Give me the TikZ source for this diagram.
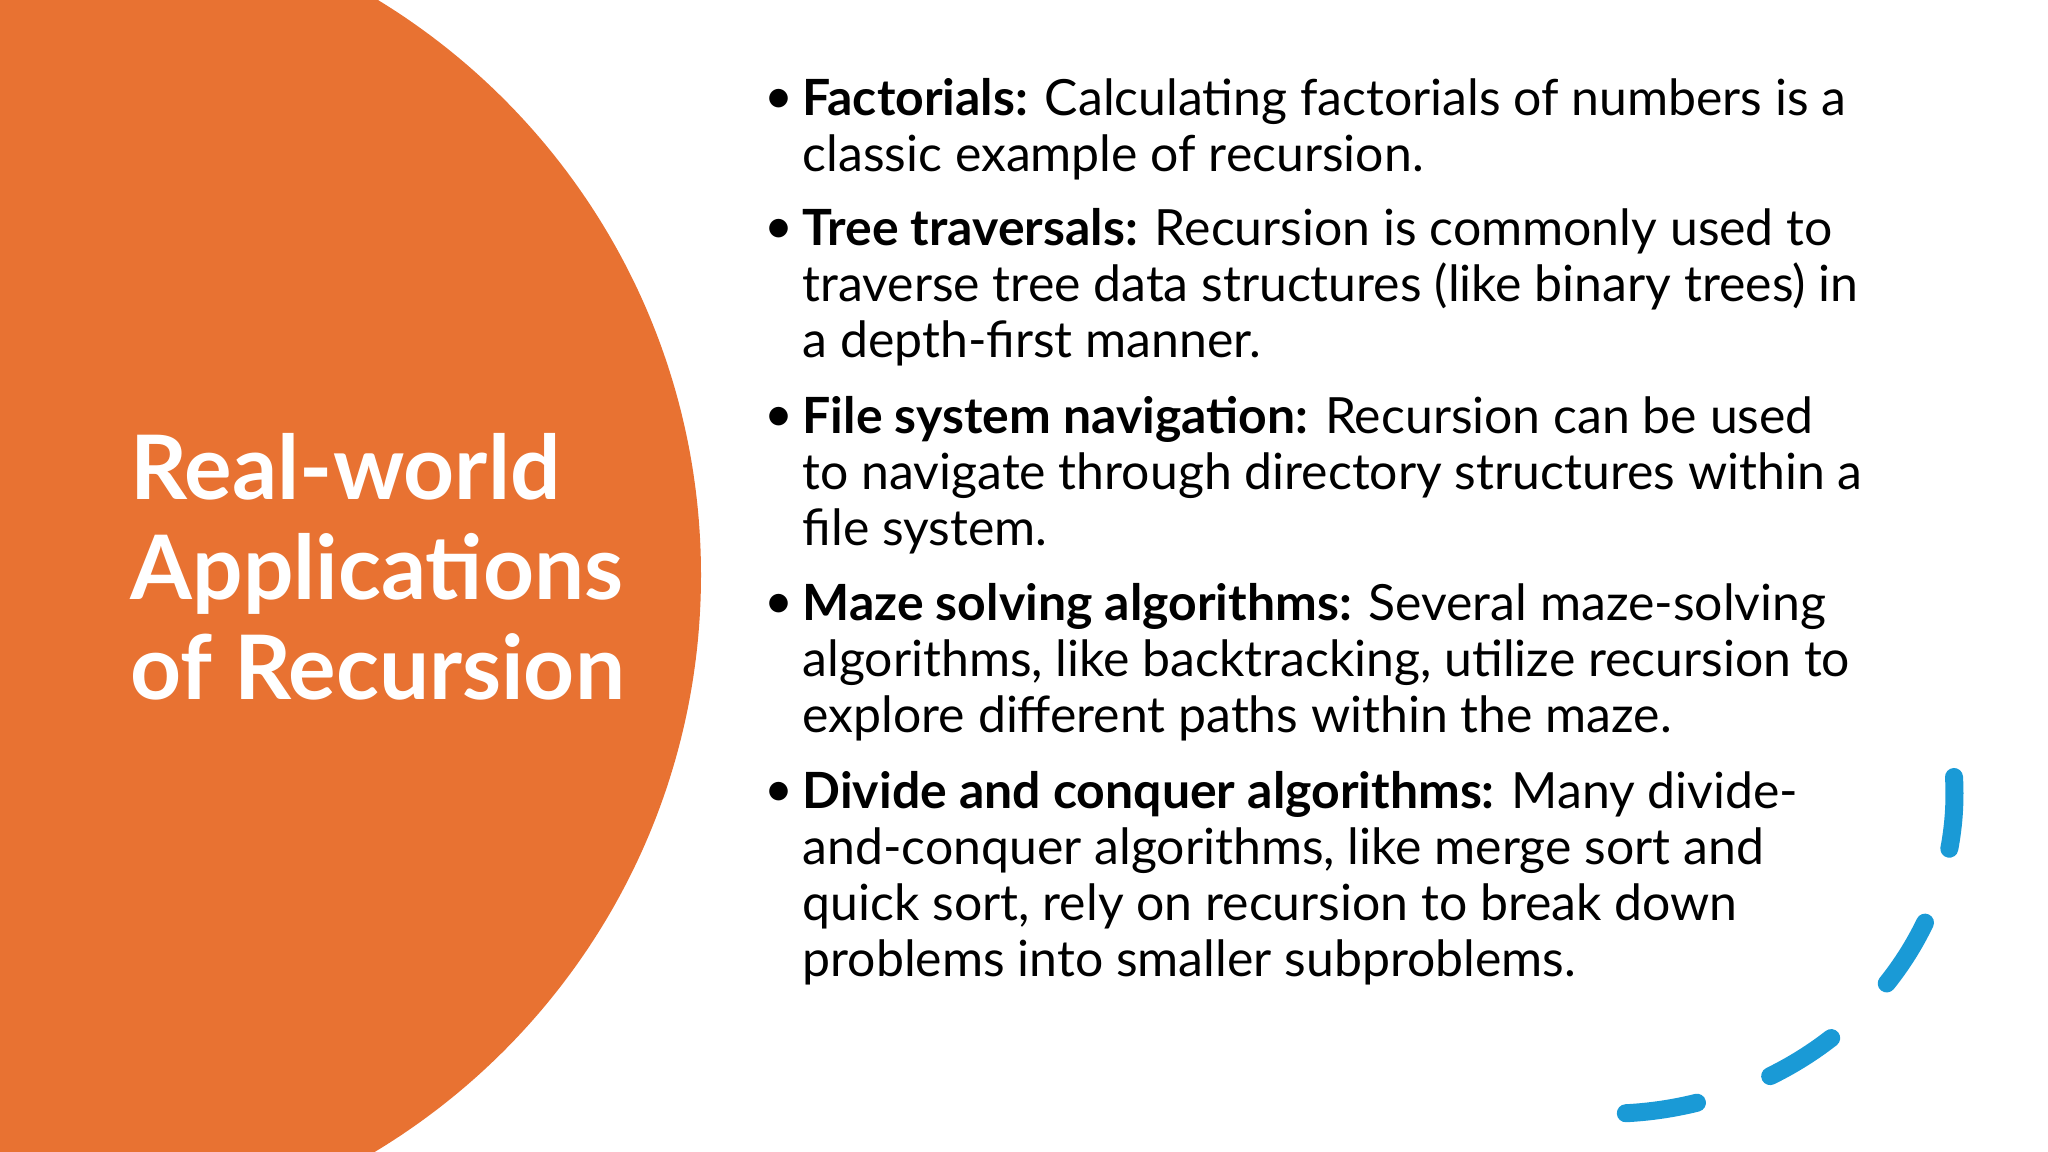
\documentclass[tikz,border=0pt]{standalone}
\usepackage{fontspec}
\setmainfont{Lato}
\definecolor{orng}{HTML}{E87232}
\definecolor{blu}{HTML}{1A9AD6}
\begin{document}
\begin{tikzpicture}[x=0.01cm,y=0.01cm,
  btxt/.style={anchor=north west,align=left,inner sep=0pt,font=\fontsize{14.2pt}{15.9pt}\selectfont},
  bdot/.style={anchor=base west,inner sep=0pt,font=\fontsize{14.2pt}{15.9pt}\selectfont}]
\useasboundingbox (0,0) rectangle (2048,1152);
\begin{scope}
\clip (0,0) rectangle (2048,1152);
\fill[orng] (28,577) circle (673);
\end{scope}
\node[anchor=west,align=left,text=white,inner sep=0pt,font=\fontsize{25.3pt}{28.4pt}\selectfont\bfseries] (title) at (130,585) {Real-world\\Applications\\of Recursion};
\node[bdot] (d1) at (764,1038) {\textbullet};
\node[btxt] (b1) at (802,1074) {\textbf{Factorials:} Calculating factorials of numbers is a\\classic example of recursion.};
\node[bdot] (d2) at (764,908) {\textbullet};
\node[btxt] (b2) at (802,944) {\textbf{Tree traversals:} Recursion is commonly used to\\traverse tree data structures (like binary trees) in\\a depth-first manner.};
\node[bdot] (d3) at (764,720) {\textbullet};
\node[btxt] (b3) at (802,756) {\textbf{File system navigation:} Recursion can be used\\to navigate through directory structures within a\\file system.};
\node[bdot] (d4) at (764,533) {\textbullet};
\node[btxt] (b4) at (802,569) {\textbf{Maze solving algorithms:} Several maze-solving\\algorithms, like backtracking, utilize recursion to\\explore different paths within the maze.};
\node[bdot] (d5) at (764,345) {\textbullet};
\node[btxt] (b5) at (802,381) {\textbf{Divide and conquer algorithms:} Many divide-\\and-conquer algorithms, like merge sort and\\quick sort, rely on recursion to break down\\problems into smaller subproblems.};
\draw[blu,line width=0.18cm,line cap=round,dash pattern=on 0.72cm off 0.78cm]
  (1954,375) arc[x radius=348,y radius=320,start angle=3,end angle=-90];
\end{tikzpicture}
\end{document}
